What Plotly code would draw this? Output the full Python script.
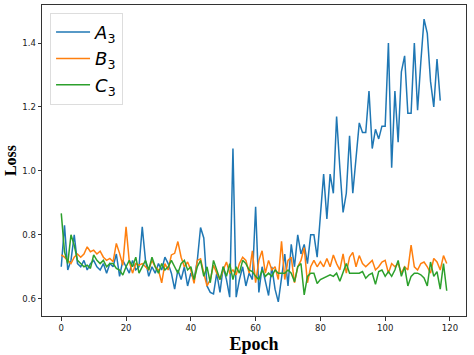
import plotly.graph_objects as go

epochs_a = list(range(118))
epochs_bc = list(range(120))

A3 = [
    0.70, 0.83, 0.69, 0.72, 0.80, 0.71, 0.70, 0.72, 0.69, 0.71,
    0.72, 0.70, 0.69, 0.71, 0.68, 0.71, 0.70, 0.74, 0.67, 0.72,
    0.70, 0.68, 0.72, 0.69, 0.70, 0.825, 0.72, 0.67, 0.70, 0.68,
    0.71, 0.69, 0.73, 0.71, 0.68, 0.63, 0.69, 0.66, 0.70, 0.64,
    0.68, 0.66, 0.72, 0.823, 0.79, 0.64, 0.62, 0.615, 0.68, 0.62,
    0.70, 0.66, 0.605, 1.07, 0.605, 0.66, 0.70, 0.64, 0.68, 0.66,
    0.888, 0.62, 0.70, 0.65, 0.61, 0.70, 0.63, 0.59, 0.66, 0.74,
    0.64, 0.77, 0.70, 0.80, 0.74, 0.77, 0.71, 0.80, 0.80, 0.73,
    0.86, 0.99, 0.85, 0.99, 0.93, 1.17, 1.01, 0.87, 0.93, 1.11,
    0.93, 1.04, 1.15, 1.12, 1.12, 1.25, 1.07, 1.13, 1.10, 1.14,
    1.14, 1.40, 1.01, 1.25, 1.09, 1.31, 1.36, 1.18, 1.18, 1.40,
    1.19, 1.34, 1.475, 1.43, 1.28, 1.20, 1.35, 1.22,
]

B3 = [
    0.737, 0.73, 0.72, 0.71, 0.73, 0.74, 0.73, 0.74, 0.7625, 0.747,
    0.752, 0.74, 0.749, 0.73, 0.72, 0.726, 0.716, 0.773, 0.742, 0.705,
    0.825, 0.716, 0.68, 0.71, 0.705, 0.71, 0.70, 0.69, 0.72, 0.70,
    0.69, 0.65, 0.71, 0.69, 0.737, 0.742, 0.779, 0.73, 0.70, 0.715,
    0.69, 0.648, 0.72, 0.725, 0.68, 0.64, 0.66, 0.705, 0.68, 0.66,
    0.69, 0.715, 0.68, 0.69, 0.675, 0.71, 0.73, 0.72, 0.68, 0.75,
    0.65, 0.72, 0.75, 0.68, 0.72, 0.69, 0.70, 0.66, 0.78, 0.66,
    0.72, 0.73, 0.65, 0.70, 0.72, 0.76, 0.65, 0.70, 0.72, 0.70,
    0.716, 0.70, 0.726, 0.70, 0.737, 0.71, 0.69, 0.74, 0.68, 0.73,
    0.745, 0.70, 0.735, 0.71, 0.70, 0.71, 0.72, 0.69, 0.70, 0.715,
    0.72, 0.68, 0.71, 0.70, 0.71, 0.68, 0.70, 0.69, 0.768, 0.70,
    0.69, 0.71, 0.715, 0.70, 0.68, 0.726, 0.715, 0.69, 0.735, 0.71,
]

C3 = [
    0.867, 0.747, 0.71, 0.80, 0.767, 0.72, 0.71, 0.70, 0.705, 0.695,
    0.737, 0.72, 0.71, 0.72, 0.70, 0.71, 0.71, 0.695, 0.69, 0.674,
    0.70, 0.72, 0.70, 0.73, 0.68, 0.70, 0.72, 0.69, 0.73, 0.70,
    0.68, 0.71, 0.69, 0.70, 0.72, 0.70, 0.68, 0.71, 0.72, 0.69,
    0.70, 0.66, 0.70, 0.72, 0.67, 0.70, 0.65, 0.72, 0.69, 0.66,
    0.70, 0.67, 0.71, 0.66, 0.70, 0.68, 0.72, 0.71, 0.69, 0.685,
    0.67, 0.66, 0.69, 0.67, 0.68, 0.67, 0.69, 0.68, 0.68, 0.68,
    0.69, 0.68, 0.653, 0.70, 0.71, 0.612, 0.67, 0.68, 0.68, 0.648,
    0.66, 0.665, 0.67, 0.675, 0.67, 0.68, 0.655, 0.68, 0.71, 0.68,
    0.68, 0.68, 0.68, 0.685, 0.664, 0.675, 0.68, 0.645, 0.685, 0.69,
    0.67, 0.685, 0.67, 0.69, 0.72, 0.67, 0.70, 0.64, 0.67, 0.68,
    0.68, 0.675, 0.665, 0.64, 0.715, 0.67, 0.685, 0.63, 0.71, 0.625,
]

x_ticks = [0, 20, 40, 60, 80, 100, 120]
y_ticks = [0.6, 0.8, 1.0, 1.2, 1.4]

fig = go.Figure()
fig.add_trace(go.Scatter(x=epochs_a, y=A3, mode="lines", name="<i>A</i><sub>3</sub>",
                         line=dict(color="#1f77b4", width=1.5)))
fig.add_trace(go.Scatter(x=epochs_bc, y=B3, mode="lines", name="<i>B</i><sub>3</sub>",
                         line=dict(color="#ff7f0e", width=1.5)))
fig.add_trace(go.Scatter(x=epochs_bc, y=C3, mode="lines", name="<i>C</i><sub>3</sub>",
                         line=dict(color="#2ca02c", width=1.5)))

axis_common = dict(
    showgrid=False, zeroline=False, showline=True, mirror=True,
    linecolor="#333333", linewidth=1, ticks="outside", ticklen=3.5,
    tickwidth=0.8, tickcolor="#333333",
    tickfont=dict(family="DejaVu Sans", size=8.5, color="#222222"),
)

fig.update_layout(
    width=474, height=355,
    margin=dict(l=42, r=8, t=5, b=39),
    paper_bgcolor="white", plot_bgcolor="white",
    xaxis=dict(range=[-5.95, 124.95], tickvals=x_ticks,
               title=dict(text="<b>Epoch</b>", standoff=5,
                          font=dict(family="Liberation Serif", size=18, color="black")),
               **axis_common),
    yaxis=dict(range=[0.546, 1.519], tickvals=y_ticks, tickformat=".1f",
               title=dict(text="<b>Loss</b>", standoff=1,
                          font=dict(family="Liberation Serif", size=16, color="black")),
               **axis_common),
    legend=dict(x=0.019, y=0.975, xanchor="left", yanchor="top",
                bgcolor="rgba(255,255,255,0.8)", bordercolor="#dddddd", borderwidth=1,
                font=dict(family="DejaVu Sans", size=18, color="black"),
                itemwidth=34),
    showlegend=True,
)

fig.write_html("out.html")
